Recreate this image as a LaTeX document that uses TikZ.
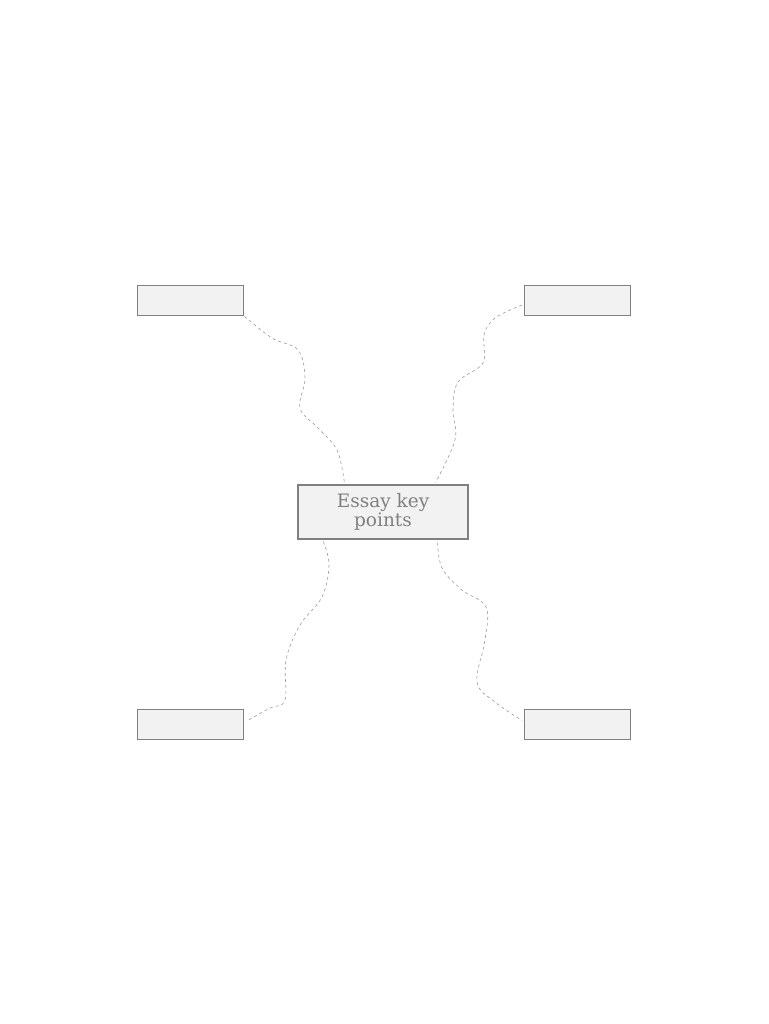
\documentclass[tikz,border=0pt]{standalone}
\usepackage{fontspec}
\setmainfont{DejaVu Serif}
\definecolor{boxfill}{HTML}{F2F2F2}
\definecolor{boxline}{HTML}{808080}
\definecolor{linkline}{HTML}{9A9A9A}
\def\sw{106pt}
\def\sh{30pt}
\tikzset{
  keybox/.style={draw=boxline, line width=1.2pt, fill=boxfill, minimum width=170pt, minimum height=54pt,
    inner sep=0pt, align=center, font=\fontsize{18.5}{17}\selectfont, text=boxline},
  sidebox/.style={draw=boxline, line width=0.9pt, fill=boxfill, minimum width=\sw, minimum height=\sh, inner sep=0pt},
  link/.style={draw=linkline, line width=0.6pt, dash pattern=on 3pt off 3pt}
}
\begin{document}
\begin{tikzpicture}[x=1pt,y=-1pt]

\useasboundingbox (0,0) rectangle (768,1024);

%the key points box and its four empty boxes
\node[keybox] (key) at (383,512) {Essay key\\points};
\node[sidebox] (tl) at (190,300) {};
\node[sidebox] (tr) at (577.5,300) {};
\node[sidebox] (bl) at (190,724) {};
\node[sidebox] (br) at (577.5,724.5) {};

%wavy dashed links
\draw[link] plot[smooth, tension=0.6] coordinates {([shift={(1pt,-1pt)}]tl.south east) (272,338) (298,350) (305,378) (300,408) (318,428) (337,450) ([shift={(47pt,2pt)}]key.north west)};
\draw[link] plot[smooth, tension=0.6] coordinates {([shift={(-2pt,-5pt)}]tr.west) (495,318) (484,335) (483,363) (458,382) (453,410) (455,440) ([shift={(-33pt,2pt)}]key.north east)};
\draw[link] plot[smooth, tension=0.6] coordinates {([shift={(26pt,-2pt)}]key.south west) (329,565) (322,597) (300,625) (286,660) (285,700) (270,708) ([shift={(5pt,4pt)}]bl.east)};
\draw[link] plot[smooth, tension=0.6] coordinates {([shift={(-31pt,-3pt)}]key.south east) (442,568) (462,590) (486,607) (485,640) (477,682) (495,702) ([shift={(-2pt,4pt)}]br.west)};

\end{tikzpicture}
\end{document}
